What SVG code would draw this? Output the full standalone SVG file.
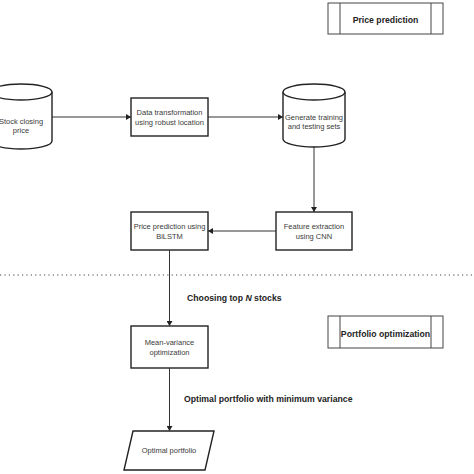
<svg xmlns="http://www.w3.org/2000/svg" width="474" height="474" viewBox="0 0 474 474">
<defs>
<marker id="arr" markerWidth="6" markerHeight="6" refX="5" refY="3" orient="auto" markerUnits="userSpaceOnUse">
<path d="M0,0 L5,3 L0,6 Z" fill="#222"/>
</marker>
<style>
.node{fill:#fff;stroke:#222;stroke-width:1.4}
.lbl{fill:#fff;stroke:#444;stroke-width:1}
.t{font-family:"Liberation Sans",Arial,sans-serif;font-size:7.5px;fill:#3a3a3a;text-anchor:middle}
.b{font-family:"Liberation Sans",Arial,sans-serif;font-size:8.7px;font-weight:bold;fill:#222}
.c{fill:none;stroke:#333;stroke-width:1}
</style>
</defs>
<rect width="474" height="474" fill="#fff"/>
<g id="label-price">
<rect class="lbl" x="328" y="3" width="115" height="31"/>
<line class="lbl" x1="340" y1="3" x2="340" y2="34"/>
<line class="lbl" x1="431" y1="3" x2="431" y2="34"/>
<text class="b" x="385.5" y="23" text-anchor="middle" font-size="8.5">Price prediction</text>
</g>
<g id="label-portfolio">
<rect class="lbl" x="328" y="316" width="115" height="32"/>
<line class="lbl" x1="340" y1="316" x2="340" y2="348"/>
<line class="lbl" x1="431" y1="316" x2="431" y2="348"/>
<text class="b" x="385.5" y="337" text-anchor="middle" font-size="8.2">Portfolio optimization</text>
</g>
<g id="stock">
<path class="node" d="M-10,92 A31,8 0 0 1 52,92 L52,141 A31,8 0 0 1 -10,141 Z"/>
<path class="node" d="M-10,92 A31,8 0 0 0 52,92" fill="none"/>
<text class="t" x="21" y="124">Stock closing</text>
<text class="t" x="21" y="133">price</text>
</g>
<g id="transform">
<rect class="node" x="131" y="98" width="77" height="38"/>
<text class="t" x="169.5" y="115">Data transformation</text>
<text class="t" x="169.5" y="124.5">using robust location</text>
</g>
<g id="generate">
<path class="node" d="M283,92 A31,8 0 0 1 345,92 L345,139 A31,8 0 0 1 283,139 Z"/>
<path class="node" d="M283,92 A31,8 0 0 0 345,92" fill="none"/>
<text class="t" x="314" y="119.5">Generate training</text>
<text class="t" x="314" y="129">and testing sets</text>
</g>
<g id="feature">
<rect class="node" x="276" y="212" width="76" height="38"/>
<text class="t" x="314" y="228.5">Feature extraction</text>
<text class="t" x="314" y="238.5">using CNN</text>
</g>
<g id="bilstm">
<rect class="node" x="131" y="212" width="77" height="38"/>
<text class="t" x="169.5" y="228.5">Price prediction using</text>
<text class="t" x="169.5" y="238.5">BiLSTM</text>
</g>
<g id="meanvar">
<rect class="node" x="131" y="326" width="77" height="42"/>
<text class="t" x="169.5" y="344.5">Mean-variance</text>
<text class="t" x="169.5" y="354.5">optimization</text>
</g>
<g id="optimal">
<path class="node" d="M133,431 L214,431 L205,470 L124,470 Z"/>
<text class="t" x="169" y="453">Optimal portfolio</text>
</g>
<g id="connectors">
<line class="c" x1="52" y1="117" x2="131" y2="117" marker-end="url(#arr)"/>
<line class="c" x1="208" y1="117" x2="283" y2="117" marker-end="url(#arr)"/>
<line class="c" x1="314" y1="147" x2="314" y2="212" marker-end="url(#arr)"/>
<line class="c" x1="276" y1="231" x2="208" y2="231" marker-end="url(#arr)"/>
<line class="c" x1="169.5" y1="250" x2="169.5" y2="326" marker-end="url(#arr)"/>
<line class="c" x1="169.5" y1="368" x2="169.5" y2="431" marker-end="url(#arr)"/>
</g>
<line x1="0" y1="275" x2="474" y2="275" stroke="#444" stroke-width="1.2" stroke-dasharray="1.2,3.2"/>
<text class="b" x="187" y="301">Choosing top <tspan font-style="italic">N</tspan> stocks</text>
<text class="b" x="184" y="402">Optimal portfolio with minimum variance</text>
</svg>
